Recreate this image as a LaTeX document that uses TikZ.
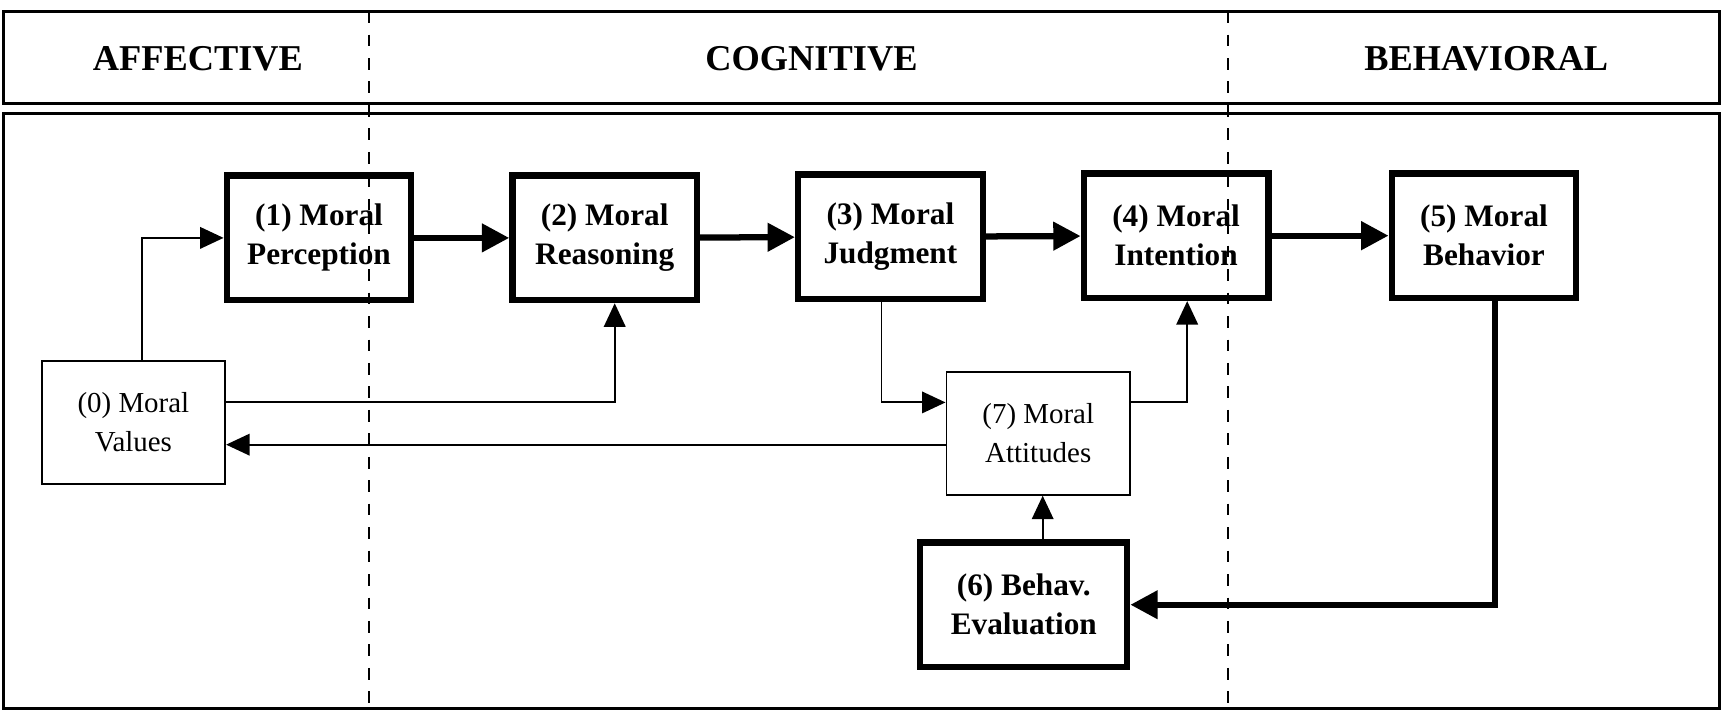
\documentclass[tikz,border=0pt]{standalone}
\usepackage{fontspec}
\setmainfont{Liberation Serif}
\usetikzlibrary{arrows.meta}
\begin{document}
\begin{tikzpicture}[x=0.01cm,y=-0.01cm,
 thick box/.style={draw,line width=1.6pt,minimum width=1.66cm,minimum height=1.12cm,align=center,font=\fontsize{8}{10}\selectfont\bfseries,inner sep=1pt},
 thin box/.style={draw,line width=0.5pt,minimum width=1.65cm,minimum height=1.1cm,align=center,font=\fontsize{7.4}{10}\selectfont,inner sep=1pt},
 head/.style={font=\fontsize{9.3}{12}\selectfont\bfseries},
 big/.style={line width=1.6pt,-{Triangle[length=7pt,width=7pt]}},
 small/.style={line width=0.5pt,-{Triangle[length=6pt,width=5.5pt]}}]
\useasboundingbox (0,0) rectangle (1550,641);
\draw[line width=0.8pt] (3,10) rectangle (1547,93);
\draw[line width=0.8pt] (3,102) rectangle (1547,637);
\draw[dashed,line width=0.5pt] (332,10) -- (332,637);
\draw[dashed,line width=0.5pt] (1105,10) -- (1105,637);
\node[head] (ha) at (178,53) {AFFECTIVE};
\node[head] (hc) at (730,53) {COGNITIVE};
\node[head] (hb) at (1337,53) {BEHAVIORAL};
\node[thick box] (n1) at (287,214) {(1) Moral\\Perception};
\node[thick box] (n2) at (544,214) {(2) Moral\\Reasoning};
\node[thick box] (n3) at (801,213) {(3) Moral\\Judgment};
\node[thick box] (n4) at (1058,212) {(4) Moral\\Intention};
\node[thick box] (n5) at (1335,212) {(5) Moral\\Behavior};
\node[thick box,minimum width=1.86cm] (n6) at (921,544) {(6) Behav.\\Evaluation};
\node[thin box] (n0) at (120,380) {(0) Moral\\Values};
\node[thin box] (n7) at (934,390) {(7) Moral\\Attitudes};
\draw[big] (n1) -- (n2);
\draw[big] (n2) -- (n3);
\draw[big] (n3) -- (n4);
\draw[big] (n4) -- (n5);
\draw[small] (n0.north -| 128,0) |- (n1.west);
\draw[small] (n0.east |- 0,362) -| (n2.south -| 553,0);
\draw[small] (n3.south -| 793,0) |- (n7.west |- 0,362);
\draw[small] (n7.east |- 0,362) -| (n4.south -| 1068,0);
\draw[small] (n7.west |- 0,400) -- (n0.east |- 0,400);
\draw[small] (n6.north -| 938,0) -- (n7.south -| 938,0);
\draw[big] (n5.south -| 1345,0) |- (n6.east |- 0,544);
\end{tikzpicture}
\end{document}
